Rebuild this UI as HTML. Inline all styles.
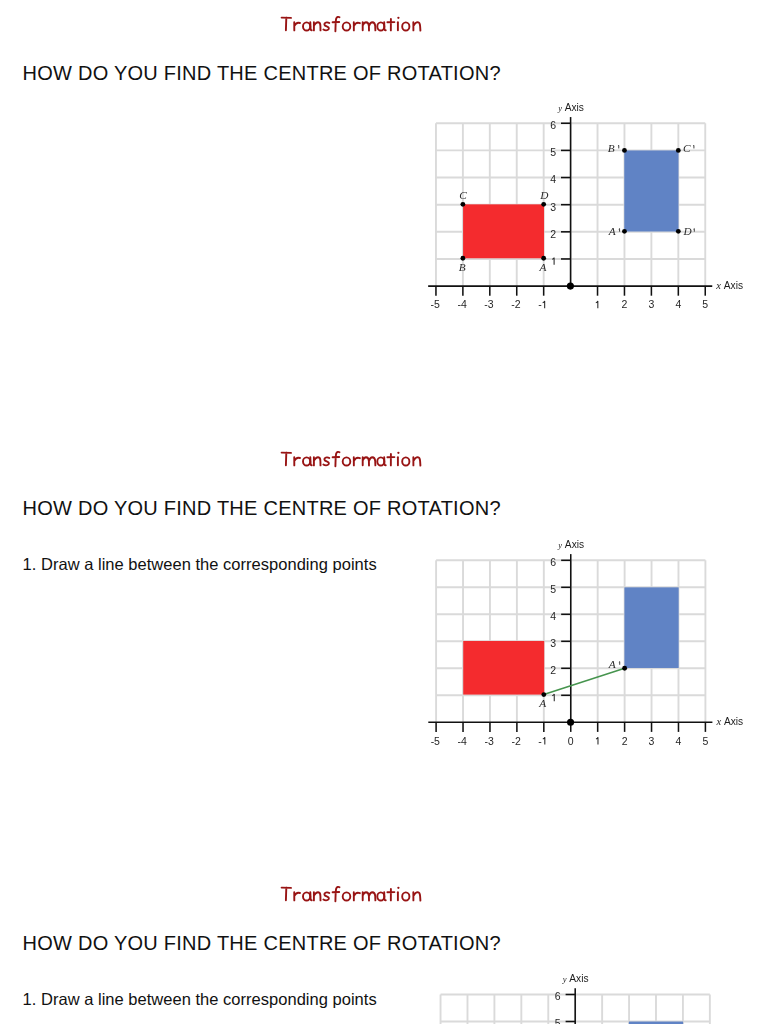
<!DOCTYPE html>
<html><head><meta charset="utf-8"><title>Transformation</title>
<style>
html,body{margin:0;padding:0;background:#fff;}
body{width:768px;height:1024px;position:relative;overflow:hidden;font-family:"Liberation Sans",sans-serif;}
.h{position:absolute;left:22.5px;font-size:20px;line-height:24px;color:#111;letter-spacing:0.25px;white-space:nowrap;}
.p{position:absolute;left:22.6px;font-size:16.5px;line-height:20px;color:#111;letter-spacing:0.02px;white-space:nowrap;}
svg{position:absolute;left:0;top:0;}
.ts{fill:none;stroke:#981414;stroke-width:1.9;stroke-linecap:round;stroke-linejoin:round;}
.g{stroke:#dadada;stroke-width:1.9;}
.ax{stroke:#111;stroke-width:1.55;}
.tk{stroke:#111;stroke-width:1.55;}
.tl{font-family:"Liberation Sans",sans-serif;font-size:10.5px;fill:#262626;}
.al{font-family:"Liberation Sans",sans-serif;font-size:10.2px;fill:#1c1c1c;}
.mi{font-family:"Liberation Serif",serif;font-style:italic;font-size:8.6px;fill:#262626;}
.pl{font-family:"Liberation Serif",serif;font-style:italic;font-size:11.3px;fill:#2a2a2a;}
.pr{fill:none;stroke:#3a3a3a;stroke-width:0.95;}
.d1{fill:none;stroke:#262626;stroke-width:1.05;}
</style></head><body>
<svg width="768" height="1024" viewBox="0 0 768 1024" style="filter:blur(0.3px)"><title>Transformation</title><g transform="translate(0,0)"><g class="ts">
<path d="M281.6,17.6 L291,17.9 M286.3,17.8 L285.9,30.3"/>
<path d="M294.25,22.3 L294.3,30.4 M294.4,25.8 C295.5,23.5 297.5,22.1 300,23"/>
<ellipse cx="306.6" cy="26.45" rx="3.6" ry="4.05"/><path d="M310.3,22.3 L310.6,29.4 Q310.8,30.4 311.7,30.3"/>
<path d="M313.9,22.3 L313.9,30.4 M314,25.6 C315.5,23 317,22.2 318.2,22.3 C320,22.5 320.4,24.5 320.4,26 L320.5,30.4"/>
<path d="M329.3,23 C328,22.1 325.5,22 324.6,23.5 C323.8,25.3 325.5,26 326.7,26.4 C328.5,27 329.3,28 328.6,29.3 C327.5,30.8 324.8,30.6 323.4,29.6"/>
<path d="M339.5,17.3 C338.5,16.6 336.8,16.8 336.2,18.5 C335.6,20.5 335.6,25 335.4,31.2 M332.6,22.3 L339.2,22"/>
<ellipse cx="346.5" cy="26.45" rx="3.8" ry="4.1"/>
<path d="M353.8,22.3 L353.85,30.4 M354,25.8 C355.2,23.4 357.3,22.1 359.9,23.2"/>
<path d="M362.7,22.3 L362.7,30.3 M362.8,25.5 C363.8,23 365,22.3 366,22.3 C368.2,22.4 368.8,24.5 368.9,26 L369,30.6 M369,25.8 C370,23.2 371.3,22.3 372.3,22.3 C374.5,22.4 375.1,24.5 375.2,26 L375.4,30.4"/>
<ellipse cx="380.8" cy="26.45" rx="3.5" ry="4.05"/><path d="M384.2,22.3 L384.4,29.3 Q384.6,30.4 385.7,30.3"/>
<path d="M390.9,18.9 L390.85,30.4 M387.4,22.3 L394.4,22.1"/>
<path d="M397.9,22.3 L397.9,30.3"/><circle cx="398.4" cy="17.8" r="1.15" style="fill:#961212;stroke:none"/>
<ellipse cx="405.8" cy="26.45" rx="3.6" ry="4.1"/>
<path d="M413.35,22.2 L413.4,30.4 M413.5,25.7 C415,23 416.5,22.1 417.8,22.1 C419.8,22.3 420,24.5 420.1,26 L420.4,30.6"/>
</g></g></svg>
<div class="h" style="top:60.5px">HOW DO YOU FIND THE CENTRE OF ROTATION?</div>
<svg width="768" height="1024" viewBox="0 0 768 1024" style="filter:blur(0.3px)"><title>Transformation</title><g transform="translate(0,435)"><g class="ts">
<path d="M281.6,17.6 L291,17.9 M286.3,17.8 L285.9,30.3"/>
<path d="M294.25,22.3 L294.3,30.4 M294.4,25.8 C295.5,23.5 297.5,22.1 300,23"/>
<ellipse cx="306.6" cy="26.45" rx="3.6" ry="4.05"/><path d="M310.3,22.3 L310.6,29.4 Q310.8,30.4 311.7,30.3"/>
<path d="M313.9,22.3 L313.9,30.4 M314,25.6 C315.5,23 317,22.2 318.2,22.3 C320,22.5 320.4,24.5 320.4,26 L320.5,30.4"/>
<path d="M329.3,23 C328,22.1 325.5,22 324.6,23.5 C323.8,25.3 325.5,26 326.7,26.4 C328.5,27 329.3,28 328.6,29.3 C327.5,30.8 324.8,30.6 323.4,29.6"/>
<path d="M339.5,17.3 C338.5,16.6 336.8,16.8 336.2,18.5 C335.6,20.5 335.6,25 335.4,31.2 M332.6,22.3 L339.2,22"/>
<ellipse cx="346.5" cy="26.45" rx="3.8" ry="4.1"/>
<path d="M353.8,22.3 L353.85,30.4 M354,25.8 C355.2,23.4 357.3,22.1 359.9,23.2"/>
<path d="M362.7,22.3 L362.7,30.3 M362.8,25.5 C363.8,23 365,22.3 366,22.3 C368.2,22.4 368.8,24.5 368.9,26 L369,30.6 M369,25.8 C370,23.2 371.3,22.3 372.3,22.3 C374.5,22.4 375.1,24.5 375.2,26 L375.4,30.4"/>
<ellipse cx="380.8" cy="26.45" rx="3.5" ry="4.05"/><path d="M384.2,22.3 L384.4,29.3 Q384.6,30.4 385.7,30.3"/>
<path d="M390.9,18.9 L390.85,30.4 M387.4,22.3 L394.4,22.1"/>
<path d="M397.9,22.3 L397.9,30.3"/><circle cx="398.4" cy="17.8" r="1.15" style="fill:#961212;stroke:none"/>
<ellipse cx="405.8" cy="26.45" rx="3.6" ry="4.1"/>
<path d="M413.35,22.2 L413.4,30.4 M413.5,25.7 C415,23 416.5,22.1 417.8,22.1 C419.8,22.3 420,24.5 420.1,26 L420.4,30.6"/>
</g></g></svg>
<div class="h" style="top:495.5px">HOW DO YOU FIND THE CENTRE OF ROTATION?</div>
<div class="p" style="top:553.5px">1. Draw a line between the corresponding points</div>
<svg width="768" height="1024" viewBox="0 0 768 1024" style="filter:blur(0.3px)"><title>Transformation</title><g transform="translate(0,870)"><g class="ts">
<path d="M281.6,17.6 L291,17.9 M286.3,17.8 L285.9,30.3"/>
<path d="M294.25,22.3 L294.3,30.4 M294.4,25.8 C295.5,23.5 297.5,22.1 300,23"/>
<ellipse cx="306.6" cy="26.45" rx="3.6" ry="4.05"/><path d="M310.3,22.3 L310.6,29.4 Q310.8,30.4 311.7,30.3"/>
<path d="M313.9,22.3 L313.9,30.4 M314,25.6 C315.5,23 317,22.2 318.2,22.3 C320,22.5 320.4,24.5 320.4,26 L320.5,30.4"/>
<path d="M329.3,23 C328,22.1 325.5,22 324.6,23.5 C323.8,25.3 325.5,26 326.7,26.4 C328.5,27 329.3,28 328.6,29.3 C327.5,30.8 324.8,30.6 323.4,29.6"/>
<path d="M339.5,17.3 C338.5,16.6 336.8,16.8 336.2,18.5 C335.6,20.5 335.6,25 335.4,31.2 M332.6,22.3 L339.2,22"/>
<ellipse cx="346.5" cy="26.45" rx="3.8" ry="4.1"/>
<path d="M353.8,22.3 L353.85,30.4 M354,25.8 C355.2,23.4 357.3,22.1 359.9,23.2"/>
<path d="M362.7,22.3 L362.7,30.3 M362.8,25.5 C363.8,23 365,22.3 366,22.3 C368.2,22.4 368.8,24.5 368.9,26 L369,30.6 M369,25.8 C370,23.2 371.3,22.3 372.3,22.3 C374.5,22.4 375.1,24.5 375.2,26 L375.4,30.4"/>
<ellipse cx="380.8" cy="26.45" rx="3.5" ry="4.05"/><path d="M384.2,22.3 L384.4,29.3 Q384.6,30.4 385.7,30.3"/>
<path d="M390.9,18.9 L390.85,30.4 M387.4,22.3 L394.4,22.1"/>
<path d="M397.9,22.3 L397.9,30.3"/><circle cx="398.4" cy="17.8" r="1.15" style="fill:#961212;stroke:none"/>
<ellipse cx="405.8" cy="26.45" rx="3.6" ry="4.1"/>
<path d="M413.35,22.2 L413.4,30.4 M413.5,25.7 C415,23 416.5,22.1 417.8,22.1 C419.8,22.3 420,24.5 420.1,26 L420.4,30.6"/>
</g></g></svg>
<div class="h" style="top:930.5px">HOW DO YOU FIND THE CENTRE OF ROTATION?</div>
<div class="p" style="top:988.5px">1. Draw a line between the corresponding points</div>
<svg width="768" height="1024" viewBox="0 0 768 1024" style="filter:blur(0.35px)">
<line x1="435.95" y1="123.26" x2="435.95" y2="286.10" class="g"/>
<line x1="462.88" y1="123.26" x2="462.88" y2="286.10" class="g"/>
<line x1="489.81" y1="123.26" x2="489.81" y2="286.10" class="g"/>
<line x1="516.74" y1="123.26" x2="516.74" y2="286.10" class="g"/>
<line x1="543.67" y1="123.26" x2="543.67" y2="286.10" class="g"/>
<line x1="570.60" y1="123.26" x2="570.60" y2="286.10" class="g"/>
<line x1="597.53" y1="123.26" x2="597.53" y2="286.10" class="g"/>
<line x1="624.46" y1="123.26" x2="624.46" y2="286.10" class="g"/>
<line x1="651.39" y1="123.26" x2="651.39" y2="286.10" class="g"/>
<line x1="678.32" y1="123.26" x2="678.32" y2="286.10" class="g"/>
<line x1="705.25" y1="123.26" x2="705.25" y2="286.10" class="g"/>
<line x1="435.95" y1="258.96" x2="705.25" y2="258.96" class="g"/>
<line x1="435.95" y1="231.82" x2="705.25" y2="231.82" class="g"/>
<line x1="435.95" y1="204.68" x2="705.25" y2="204.68" class="g"/>
<line x1="435.95" y1="177.54" x2="705.25" y2="177.54" class="g"/>
<line x1="435.95" y1="150.40" x2="705.25" y2="150.40" class="g"/>
<line x1="435.95" y1="123.26" x2="705.25" y2="123.26" class="g"/>
<rect x="463.08" y="204.35" width="80.99" height="53.90" fill="#f42b2e"/>
<rect x="624.26" y="150.45" width="54.26" height="81.05" fill="#6083c5"/>
<line x1="428.15" y1="286.1" x2="712.25" y2="286.1" class="ax"/>
<line x1="570.6" y1="117.06" x2="570.6" y2="286.1" class="ax"/>
<line x1="435.95" y1="286.1" x2="435.95" y2="295.70000000000005" class="tk"/>
<line x1="462.88" y1="286.1" x2="462.88" y2="295.70000000000005" class="tk"/>
<line x1="489.81" y1="286.1" x2="489.81" y2="295.70000000000005" class="tk"/>
<line x1="516.74" y1="286.1" x2="516.74" y2="295.70000000000005" class="tk"/>
<line x1="543.67" y1="286.1" x2="543.67" y2="295.70000000000005" class="tk"/>
<line x1="597.53" y1="286.1" x2="597.53" y2="295.70000000000005" class="tk"/>
<line x1="624.46" y1="286.1" x2="624.46" y2="295.70000000000005" class="tk"/>
<line x1="651.39" y1="286.1" x2="651.39" y2="295.70000000000005" class="tk"/>
<line x1="678.32" y1="286.1" x2="678.32" y2="295.70000000000005" class="tk"/>
<line x1="705.25" y1="286.1" x2="705.25" y2="295.70000000000005" class="tk"/>
<line x1="561.0" y1="258.96" x2="570.6" y2="258.96" class="tk"/>
<line x1="561.0" y1="231.82" x2="570.6" y2="231.82" class="tk"/>
<line x1="561.0" y1="204.68" x2="570.6" y2="204.68" class="tk"/>
<line x1="561.0" y1="177.54" x2="570.6" y2="177.54" class="tk"/>
<line x1="561.0" y1="150.40" x2="570.6" y2="150.40" class="tk"/>
<line x1="561.0" y1="123.26" x2="570.6" y2="123.26" class="tk"/>
<text x="435.15" y="308.30" class="tl" text-anchor="middle">-5</text>
<text x="462.08" y="308.30" class="tl" text-anchor="middle">-4</text>
<text x="489.01" y="308.30" class="tl" text-anchor="middle">-3</text>
<text x="515.94" y="308.30" class="tl" text-anchor="middle">-2</text>
<text x="538.17" y="308.30" class="tl">-</text>
<path d="M542.67,302.80 C543.67,302.50 544.37,301.80 544.67,301.00 L544.67,308.30" class="d1"/>
<path d="M595.83,302.80 C596.83,302.50 597.53,301.80 597.83,301.00 L597.83,308.30" class="d1"/>
<text x="624.46" y="308.30" class="tl" text-anchor="middle">2</text>
<text x="651.39" y="308.30" class="tl" text-anchor="middle">3</text>
<text x="678.32" y="308.30" class="tl" text-anchor="middle">4</text>
<text x="705.25" y="308.30" class="tl" text-anchor="middle">5</text>
<path d="M552.10,259.36 C553.10,259.06 553.80,258.36 554.10,257.56 L554.10,264.86" class="d1"/>
<text x="556.00" y="237.72" class="tl" text-anchor="end">2</text>
<text x="556.00" y="210.58" class="tl" text-anchor="end">3</text>
<text x="556.00" y="183.44" class="tl" text-anchor="end">4</text>
<text x="556.00" y="156.30" class="tl" text-anchor="end">5</text>
<text x="556.00" y="129.16" class="tl" text-anchor="end">6</text>
<circle cx="570.4" cy="286.1" r="3.55" fill="#000"/>
<text x="558.20" y="110.76" class="mi">y</text><text x="564.70" y="111.06" class="al">Axis</text>
<text x="716.35" y="288.70" class="mi" style="font-size:10.6px">x</text><text x="723.75" y="289.10" class="al">Axis</text>
<circle cx="462.88" cy="204.35" r="2.4" fill="#000"/>
<circle cx="543.67" cy="204.35" r="2.4" fill="#000"/>
<circle cx="462.88" cy="258.25" r="2.4" fill="#000"/>
<circle cx="543.67" cy="258.25" r="2.4" fill="#000"/>
<circle cx="624.46" cy="150.45" r="2.4" fill="#000"/>
<circle cx="678.32" cy="150.45" r="2.4" fill="#000"/>
<circle cx="624.46" cy="231.30" r="2.4" fill="#000"/>
<circle cx="678.32" cy="231.30" r="2.4" fill="#000"/>
<text x="459.28" y="199.05" class="pl">C</text>
<text x="540.17" y="198.85" class="pl">D</text>
<text x="458.68" y="271.05" class="pl">B</text>
<text x="539.47" y="271.05" class="pl">A</text>
<text x="607.86" y="151.65" class="pl">B</text>
<path d="M617.96,145.95 L618.76,145.35 L618.76,148.45" class="pr"/>
<text x="683.02" y="151.65" class="pl">C</text>
<path d="M693.12,145.95 L693.92,145.35 L693.92,148.45" class="pr"/>
<text x="608.66" y="234.90" class="pl">A</text>
<path d="M618.76,229.20 L619.56,228.60 L619.56,231.70" class="pr"/>
<text x="683.42" y="234.90" class="pl">D</text>
<path d="M693.52,229.20 L694.32,228.60 L694.32,231.70" class="pr"/>
<line x1="436.10" y1="560.30" x2="436.10" y2="722.30" class="g"/>
<line x1="463.03" y1="560.30" x2="463.03" y2="722.30" class="g"/>
<line x1="489.96" y1="560.30" x2="489.96" y2="722.30" class="g"/>
<line x1="516.89" y1="560.30" x2="516.89" y2="722.30" class="g"/>
<line x1="543.82" y1="560.30" x2="543.82" y2="722.30" class="g"/>
<line x1="570.75" y1="560.30" x2="570.75" y2="722.30" class="g"/>
<line x1="597.68" y1="560.30" x2="597.68" y2="722.30" class="g"/>
<line x1="624.61" y1="560.30" x2="624.61" y2="722.30" class="g"/>
<line x1="651.54" y1="560.30" x2="651.54" y2="722.30" class="g"/>
<line x1="678.47" y1="560.30" x2="678.47" y2="722.30" class="g"/>
<line x1="705.40" y1="560.30" x2="705.40" y2="722.30" class="g"/>
<line x1="436.10" y1="695.30" x2="705.40" y2="695.30" class="g"/>
<line x1="436.10" y1="668.30" x2="705.40" y2="668.30" class="g"/>
<line x1="436.10" y1="641.30" x2="705.40" y2="641.30" class="g"/>
<line x1="436.10" y1="614.30" x2="705.40" y2="614.30" class="g"/>
<line x1="436.10" y1="587.30" x2="705.40" y2="587.30" class="g"/>
<line x1="436.10" y1="560.30" x2="705.40" y2="560.30" class="g"/>
<rect x="463.23" y="640.97" width="80.99" height="53.62" fill="#f42b2e"/>
<rect x="624.41" y="587.35" width="54.26" height="80.63" fill="#6083c5"/>
<line x1="428.30" y1="722.3" x2="712.40" y2="722.3" class="ax"/>
<line x1="570.75" y1="554.10" x2="570.75" y2="731.9" class="ax"/>
<line x1="436.10" y1="722.3" x2="436.10" y2="731.9" class="tk"/>
<line x1="463.03" y1="722.3" x2="463.03" y2="731.9" class="tk"/>
<line x1="489.96" y1="722.3" x2="489.96" y2="731.9" class="tk"/>
<line x1="516.89" y1="722.3" x2="516.89" y2="731.9" class="tk"/>
<line x1="543.82" y1="722.3" x2="543.82" y2="731.9" class="tk"/>
<line x1="597.68" y1="722.3" x2="597.68" y2="731.9" class="tk"/>
<line x1="624.61" y1="722.3" x2="624.61" y2="731.9" class="tk"/>
<line x1="651.54" y1="722.3" x2="651.54" y2="731.9" class="tk"/>
<line x1="678.47" y1="722.3" x2="678.47" y2="731.9" class="tk"/>
<line x1="705.40" y1="722.3" x2="705.40" y2="731.9" class="tk"/>
<line x1="561.15" y1="695.30" x2="570.75" y2="695.30" class="tk"/>
<line x1="561.15" y1="668.30" x2="570.75" y2="668.30" class="tk"/>
<line x1="561.15" y1="641.30" x2="570.75" y2="641.30" class="tk"/>
<line x1="561.15" y1="614.30" x2="570.75" y2="614.30" class="tk"/>
<line x1="561.15" y1="587.30" x2="570.75" y2="587.30" class="tk"/>
<line x1="561.15" y1="560.30" x2="570.75" y2="560.30" class="tk"/>
<text x="435.30" y="744.50" class="tl" text-anchor="middle">-5</text>
<text x="462.23" y="744.50" class="tl" text-anchor="middle">-4</text>
<text x="489.16" y="744.50" class="tl" text-anchor="middle">-3</text>
<text x="516.09" y="744.50" class="tl" text-anchor="middle">-2</text>
<text x="538.32" y="744.50" class="tl">-</text>
<path d="M542.82,739.00 C543.82,738.70 544.52,738.00 544.82,737.20 L544.82,744.50" class="d1"/>
<text x="570.75" y="744.50" class="tl" text-anchor="middle">0</text>
<path d="M595.98,739.00 C596.98,738.70 597.68,738.00 597.98,737.20 L597.98,744.50" class="d1"/>
<text x="624.61" y="744.50" class="tl" text-anchor="middle">2</text>
<text x="651.54" y="744.50" class="tl" text-anchor="middle">3</text>
<text x="678.47" y="744.50" class="tl" text-anchor="middle">4</text>
<text x="705.40" y="744.50" class="tl" text-anchor="middle">5</text>
<path d="M552.25,695.70 C553.25,695.40 553.95,694.70 554.25,693.90 L554.25,701.20" class="d1"/>
<text x="556.15" y="674.20" class="tl" text-anchor="end">2</text>
<text x="556.15" y="647.20" class="tl" text-anchor="end">3</text>
<text x="556.15" y="620.20" class="tl" text-anchor="end">4</text>
<text x="556.15" y="593.20" class="tl" text-anchor="end">5</text>
<text x="556.15" y="566.20" class="tl" text-anchor="end">6</text>
<circle cx="570.55" cy="722.3" r="3.55" fill="#000"/>
<text x="558.35" y="547.80" class="mi">y</text><text x="564.85" y="548.10" class="al">Axis</text>
<text x="716.50" y="724.90" class="mi" style="font-size:10.6px">x</text><text x="723.90" y="725.30" class="al">Axis</text>
<line x1="543.82" y1="694.59" x2="624.61" y2="668.18" stroke="#46944e" stroke-width="1.55"/>
<circle cx="543.82" cy="694.59" r="2.4" fill="#000"/><circle cx="624.61" cy="668.28" r="2.45" fill="#000"/>
<text x="539.22" y="707.49" class="pl">A</text>
<text x="608.81" y="667.98" class="pl">A</text>
<path d="M618.91,662.28 L619.71,661.68 L619.71,664.78" class="pr"/>
<line x1="440.55" y1="994.50" x2="440.55" y2="1156.50" class="g"/>
<line x1="467.48" y1="994.50" x2="467.48" y2="1156.50" class="g"/>
<line x1="494.41" y1="994.50" x2="494.41" y2="1156.50" class="g"/>
<line x1="521.34" y1="994.50" x2="521.34" y2="1156.50" class="g"/>
<line x1="548.27" y1="994.50" x2="548.27" y2="1156.50" class="g"/>
<line x1="575.20" y1="994.50" x2="575.20" y2="1156.50" class="g"/>
<line x1="602.13" y1="994.50" x2="602.13" y2="1156.50" class="g"/>
<line x1="629.06" y1="994.50" x2="629.06" y2="1156.50" class="g"/>
<line x1="655.99" y1="994.50" x2="655.99" y2="1156.50" class="g"/>
<line x1="682.92" y1="994.50" x2="682.92" y2="1156.50" class="g"/>
<line x1="709.85" y1="994.50" x2="709.85" y2="1156.50" class="g"/>
<line x1="440.55" y1="1129.50" x2="709.85" y2="1129.50" class="g"/>
<line x1="440.55" y1="1102.50" x2="709.85" y2="1102.50" class="g"/>
<line x1="440.55" y1="1075.50" x2="709.85" y2="1075.50" class="g"/>
<line x1="440.55" y1="1048.50" x2="709.85" y2="1048.50" class="g"/>
<line x1="440.55" y1="1021.50" x2="709.85" y2="1021.50" class="g"/>
<line x1="440.55" y1="994.50" x2="709.85" y2="994.50" class="g"/>
<rect x="467.68" y="1075.17" width="80.99" height="53.62" fill="#f42b2e"/>
<rect x="628.86" y="1021.54" width="54.26" height="80.63" fill="#6083c5"/>
<line x1="432.75" y1="1156.5" x2="716.85" y2="1156.5" class="ax"/>
<line x1="575.2" y1="988.30" x2="575.2" y2="1166.1" class="ax"/>
<line x1="440.55" y1="1156.5" x2="440.55" y2="1166.1" class="tk"/>
<line x1="467.48" y1="1156.5" x2="467.48" y2="1166.1" class="tk"/>
<line x1="494.41" y1="1156.5" x2="494.41" y2="1166.1" class="tk"/>
<line x1="521.34" y1="1156.5" x2="521.34" y2="1166.1" class="tk"/>
<line x1="548.27" y1="1156.5" x2="548.27" y2="1166.1" class="tk"/>
<line x1="602.13" y1="1156.5" x2="602.13" y2="1166.1" class="tk"/>
<line x1="629.06" y1="1156.5" x2="629.06" y2="1166.1" class="tk"/>
<line x1="655.99" y1="1156.5" x2="655.99" y2="1166.1" class="tk"/>
<line x1="682.92" y1="1156.5" x2="682.92" y2="1166.1" class="tk"/>
<line x1="709.85" y1="1156.5" x2="709.85" y2="1166.1" class="tk"/>
<line x1="565.6" y1="1129.50" x2="575.2" y2="1129.50" class="tk"/>
<line x1="565.6" y1="1102.50" x2="575.2" y2="1102.50" class="tk"/>
<line x1="565.6" y1="1075.50" x2="575.2" y2="1075.50" class="tk"/>
<line x1="565.6" y1="1048.50" x2="575.2" y2="1048.50" class="tk"/>
<line x1="565.6" y1="1021.50" x2="575.2" y2="1021.50" class="tk"/>
<line x1="565.6" y1="994.50" x2="575.2" y2="994.50" class="tk"/>
<text x="439.75" y="1178.70" class="tl" text-anchor="middle">-5</text>
<text x="466.68" y="1178.70" class="tl" text-anchor="middle">-4</text>
<text x="493.61" y="1178.70" class="tl" text-anchor="middle">-3</text>
<text x="520.54" y="1178.70" class="tl" text-anchor="middle">-2</text>
<text x="542.77" y="1178.70" class="tl">-</text>
<path d="M547.27,1173.20 C548.27,1172.90 548.97,1172.20 549.27,1171.40 L549.27,1178.70" class="d1"/>
<text x="575.20" y="1178.70" class="tl" text-anchor="middle">0</text>
<path d="M600.43,1173.20 C601.43,1172.90 602.13,1172.20 602.43,1171.40 L602.43,1178.70" class="d1"/>
<text x="629.06" y="1178.70" class="tl" text-anchor="middle">2</text>
<text x="655.99" y="1178.70" class="tl" text-anchor="middle">3</text>
<text x="682.92" y="1178.70" class="tl" text-anchor="middle">4</text>
<text x="709.85" y="1178.70" class="tl" text-anchor="middle">5</text>
<path d="M556.70,1129.90 C557.70,1129.60 558.40,1128.90 558.70,1128.10 L558.70,1135.40" class="d1"/>
<text x="560.60" y="1108.40" class="tl" text-anchor="end">2</text>
<text x="560.60" y="1081.40" class="tl" text-anchor="end">3</text>
<text x="560.60" y="1054.40" class="tl" text-anchor="end">4</text>
<text x="560.60" y="1027.40" class="tl" text-anchor="end">5</text>
<text x="560.60" y="1000.40" class="tl" text-anchor="end">6</text>
<circle cx="575.0" cy="1156.5" r="3.55" fill="#000"/>
<text x="562.80" y="982.00" class="mi">y</text><text x="569.30" y="982.30" class="al">Axis</text>
<text x="720.95" y="1159.10" class="mi" style="font-size:10.6px">x</text><text x="728.35" y="1159.50" class="al">Axis</text>
<line x1="548.27" y1="1128.79" x2="629.06" y2="1102.38" stroke="#46944e" stroke-width="1.55"/>
<circle cx="548.27" cy="1128.79" r="2.4" fill="#000"/><circle cx="629.06" cy="1102.48" r="2.45" fill="#000"/>
<text x="543.67" y="1141.69" class="pl">A</text>
<text x="613.26" y="1102.18" class="pl">A</text>
<path d="M623.36,1096.48 L624.16,1095.88 L624.16,1098.98" class="pr"/>
</svg>
</body></html>
